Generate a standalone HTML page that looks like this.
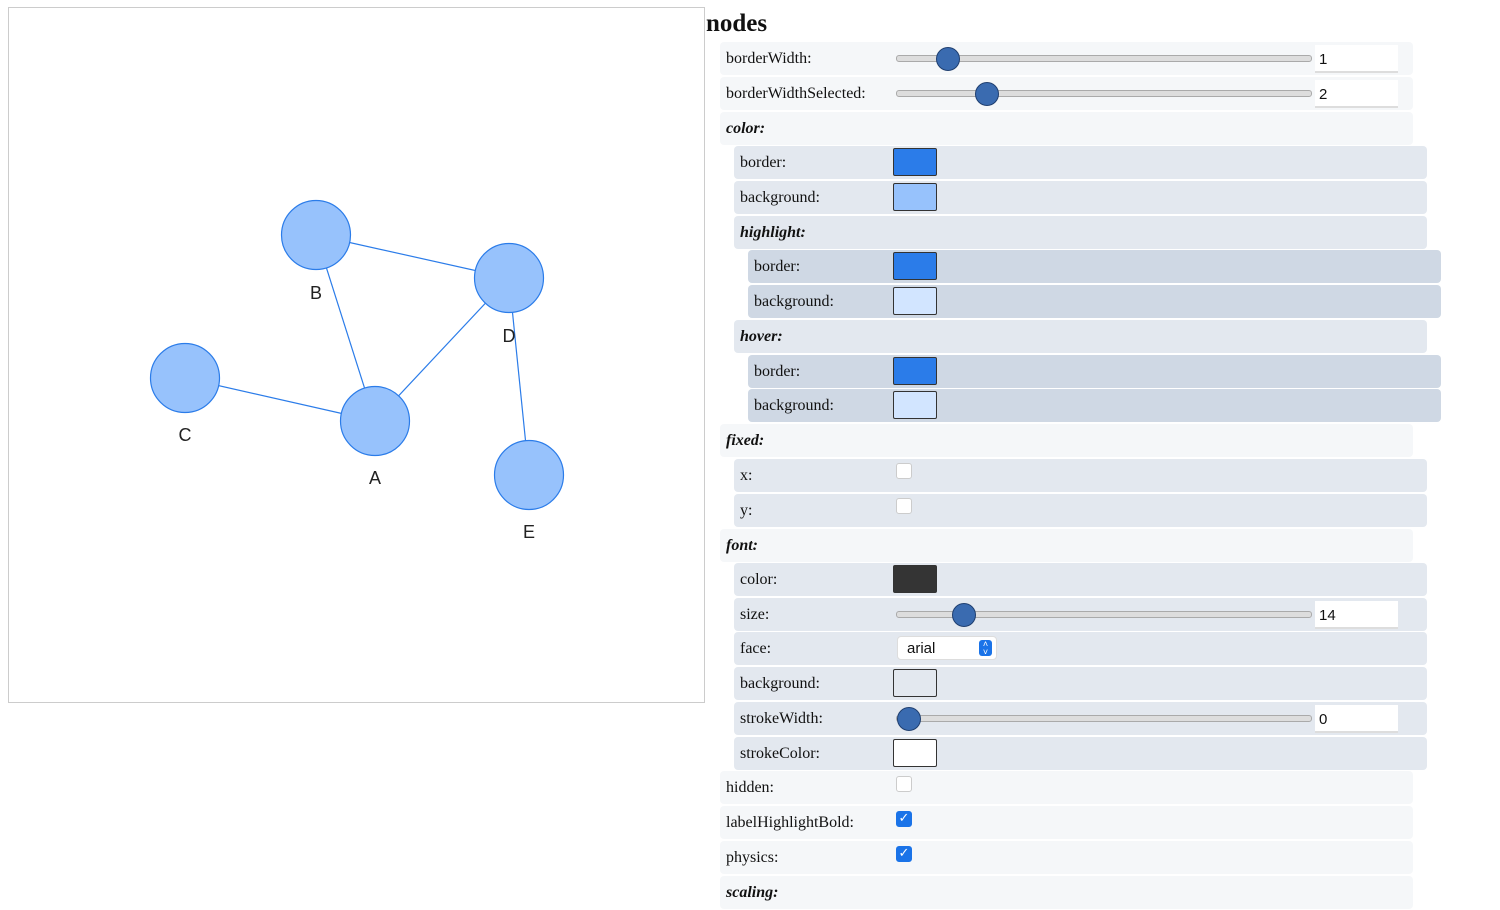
<!DOCTYPE html>
<html><head><meta charset="utf-8"><style>
body{margin:0;width:1500px;height:910px;background:#fff;position:relative;overflow:hidden;font-family:"Liberation Serif",serif;font-size:16px;color:#111}
.r{position:absolute;height:33px;border-radius:4px}
.l0{left:720px;width:693px;background:#f5f7f9}
.l1{left:734px;width:693px;background:#e3e8ef}
.l2{left:748px;width:693px;background:#cfd8e4}
.t{position:absolute;left:6px;top:8px}
.h{font-weight:bold;font-style:italic}
.sw{position:absolute;left:893px;width:42px;height:26px;border:1px solid #333;border-radius:2px}
.tr{position:absolute;left:896px;width:414px;height:5px;background:#ddd;border:1px solid #aaa;border-radius:3px}
.th{position:absolute;width:22px;height:22px;border-radius:50%;background:#3a6bb0;border:1px solid #1f3f70}
.in{position:absolute;left:1315px;width:83px;height:26px;background:#fff;border-bottom:2px solid #ddd;font-family:"Liberation Sans",sans-serif;font-size:15px;line-height:30px;text-indent:4px}
.cb{position:absolute;left:896px;width:14px;height:14px;border:1px solid #ccc;border-radius:3px;background:#fff}
.cbc{background:#1a73e8;border-color:#1a73e8;color:#fff;font-size:13px;line-height:14px;text-align:center;font-family:"DejaVu Sans",sans-serif}
</style></head><body>
<svg style="position:absolute;left:0;top:0" width="710" height="710">
<rect x="8.5" y="7.5" width="696" height="695" fill="#fff" stroke="#ccc"/>
<g stroke="#2b7ce9" stroke-width="1.2">
<line x1="316" y1="235" x2="509" y2="278"/><line x1="316" y1="235" x2="375" y2="421"/>
<line x1="509" y1="278" x2="375" y2="421"/><line x1="185" y1="378" x2="375" y2="421"/>
<line x1="509" y1="278" x2="529" y2="475"/></g>
<g fill="#97c2fc" stroke="#2b7ce9" stroke-width="1.2">
<circle cx="316" cy="235" r="34.5"/><circle cx="509" cy="278" r="34.5"/><circle cx="185" cy="378" r="34.5"/><circle cx="375" cy="421" r="34.5"/><circle cx="529" cy="475" r="34.5"/></g>
<g font-family="Liberation Sans,sans-serif" font-size="18" text-anchor="middle" fill="#222">
<text x="316" y="299">B</text><text x="509" y="342">D</text><text x="185" y="441">C</text><text x="375" y="484">A</text><text x="529" y="538">E</text></g>
</svg>
<div style="position:absolute;left:706px;top:10px;font-weight:bold;font-size:25px">nodes</div>

<div class="r l0" style="top:42px"><span class="t">borderWidth:</span></div>
<div class="tr" style="top:55px"></div><div class="th" style="left:936px;top:47px"></div><div class="in" style="top:45px">1</div>
<div class="r l0" style="top:77px"><span class="t">borderWidthSelected:</span></div>
<div class="tr" style="top:90px"></div><div class="th" style="left:975px;top:82px"></div><div class="in" style="top:80px">2</div>
<div class="r l0" style="top:112px"><span class="t h">color:</span></div>
<div class="r l1" style="top:146px"><span class="t">border:</span></div><div class="sw" style="top:148px;background:#2b7ce9"></div>
<div class="r l1" style="top:181px"><span class="t">background:</span></div><div class="sw" style="top:183px;background:#97c2fc"></div>
<div class="r l1" style="top:216px"><span class="t h">highlight:</span></div>
<div class="r l2" style="top:250px"><span class="t">border:</span></div><div class="sw" style="top:252px;background:#2b7ce9"></div>
<div class="r l2" style="top:285px"><span class="t">background:</span></div><div class="sw" style="top:287px;background:#d2e5ff"></div>
<div class="r l1" style="top:320px"><span class="t h">hover:</span></div>
<div class="r l2" style="top:355px"><span class="t">border:</span></div><div class="sw" style="top:357px;background:#2b7ce9"></div>
<div class="r l2" style="top:389px"><span class="t">background:</span></div><div class="sw" style="top:391px;background:#d2e5ff"></div>
<div class="r l0" style="top:424px"><span class="t h">fixed:</span></div>
<div class="r l1" style="top:459px"><span class="t">x:</span></div><div class="cb" style="top:463px"></div>
<div class="r l1" style="top:494px"><span class="t">y:</span></div><div class="cb" style="top:498px"></div>
<div class="r l0" style="top:529px"><span class="t h">font:</span></div>
<div class="r l1" style="top:563px"><span class="t">color:</span></div><div class="sw" style="top:565px;background:#343434"></div>
<div class="r l1" style="top:598px"><span class="t">size:</span></div>
<div class="tr" style="top:611px"></div><div class="th" style="left:952px;top:603px"></div><div class="in" style="top:601px">14</div>
<div class="r l1" style="top:632px"><span class="t">face:</span></div>
<div style="position:absolute;left:897px;top:636px;width:98px;height:22px;background:#fff;border:1px solid #ddd;border-radius:4px;font-family:'Liberation Sans',sans-serif;font-size:15px;line-height:24px"><span style="margin-left:9px">arial</span><span style="position:absolute;right:4px;top:3px;width:13px;height:16px;background:#1a73e8;border-radius:3px;color:#fff;font-size:9px;line-height:8px;text-align:center">˄<br>˅</span></div>
<div class="r l1" style="top:667px"><span class="t">background:</span></div><div class="sw" style="top:669px;background:#e3e8ef"></div>
<div class="r l1" style="top:702px"><span class="t">strokeWidth:</span></div>
<div class="tr" style="top:715px"></div><div class="th" style="left:897px;top:707px"></div><div class="in" style="top:705px">0</div>
<div class="r l1" style="top:737px"><span class="t">strokeColor:</span></div><div class="sw" style="top:739px;background:#fff"></div>
<div class="r l0" style="top:771px"><span class="t">hidden:</span></div><div class="cb" style="top:776px"></div>
<div class="r l0" style="top:806px"><span class="t">labelHighlightBold:</span></div><div class="cb cbc" style="top:811px">✓</div>
<div class="r l0" style="top:841px"><span class="t">physics:</span></div><div class="cb cbc" style="top:846px">✓</div>
<div class="r l0" style="top:876px"><span class="t h">scaling:</span></div>
</body></html>
